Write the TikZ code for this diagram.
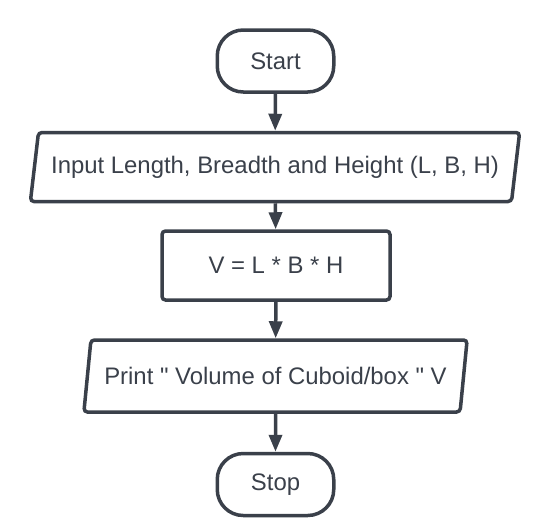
\documentclass[tikz,border=0pt]{standalone}
\usepackage{fontspec}
\setmainfont{Liberation Sans}[Ligatures=TeXOff]
\usepackage{tikz}
\usetikzlibrary{shapes.geometric, arrows.meta}
\definecolor{flowline}{RGB}{58,64,74}
\tikzstyle{terminal} = [rectangle, rounded corners=0.52cm, minimum width=2.33cm, minimum height=1.24cm, draw=flowline, line width=0.07cm, text=flowline, font=\fontsize{13.6}{16}\selectfont]
\tikzstyle{io} = [trapezium, trapezium left angle=77, trapezium right angle=103, trapezium stretches=true, rounded corners=2pt, draw=flowline, line width=0.07cm, text=flowline, font=\fontsize{13.6}{16}\selectfont]
\tikzstyle{process} = [rectangle, rounded corners=2pt, minimum width=4.56cm, minimum height=1.38cm, draw=flowline, line width=0.07cm, text=flowline, font=\fontsize{13.6}{16}\selectfont]
\tikzstyle{arrow} = [line width=0.07cm, draw=flowline, -{Triangle[length=0.34cm, width=0.26cm]}]

\begin{document}
\begin{tikzpicture}
            \useasboundingbox (0,0) rectangle (11,-10.56);
            \node[terminal] (start) at (5.51,-1.22) {Start};
            \node[io, minimum width=9.8cm, minimum height=1.38cm] (input) at (5.5,-3.34) {Input Length, Breadth and Height (L, B, H)};
            \node[process] (volume) at (5.52,-5.31) {V = L * B * H};
            \node[io, minimum width=7.67cm, minimum height=1.44cm] (print) at (5.51,-7.52) {Print " Volume of Cuboid/box " V};
            \node[terminal] (stop) at (5.51,-9.69) {Stop};
            
            \draw[arrow] (start) -- (input);
            \draw[arrow] (input) -- (volume);
            \draw[arrow] (volume) -- (print);
            \draw[arrow] (print) -- (stop);
        \end{tikzpicture}
\end{document}
